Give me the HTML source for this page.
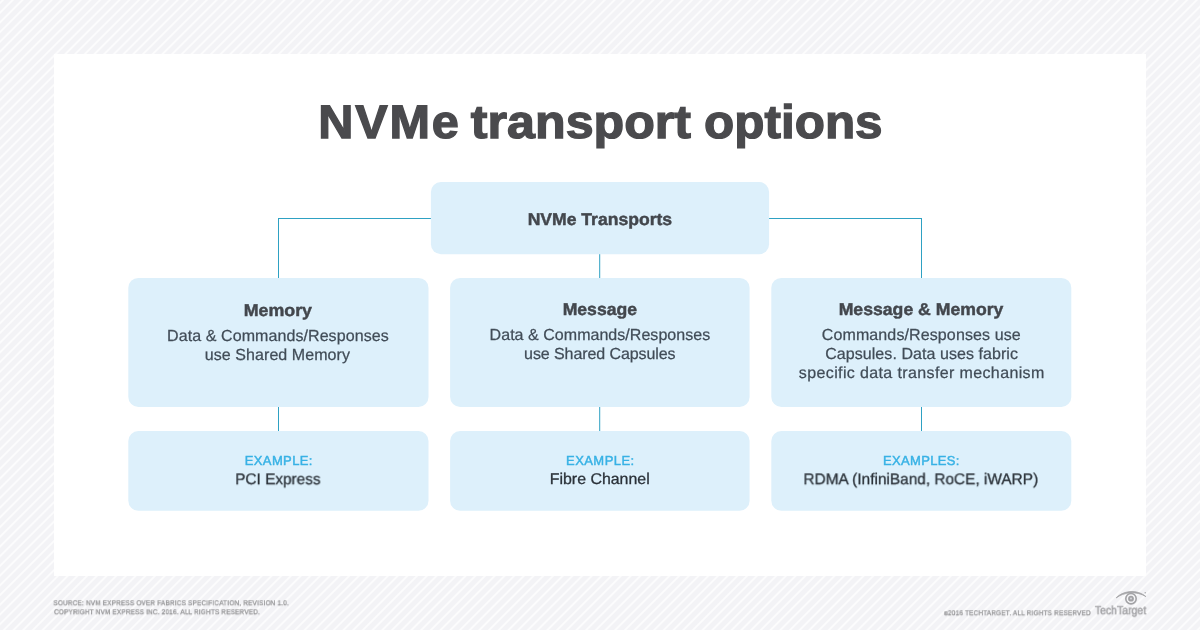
<!DOCTYPE html>
<html lang="en">
<head>
<meta charset="utf-8">
<title>NVMe transport options</title>
<style>
html,body{margin:0;padding:0;}
body{width:1200px;height:630px;overflow:hidden;position:relative;background:#f3f3f6;font-family:"Liberation Sans",sans-serif;}
.bg{position:absolute;left:0;top:0;width:1200px;height:630px;
  background:repeating-linear-gradient(135deg,rgba(255,255,255,0) 0px,rgba(255,255,255,0) .62px,rgba(255,255,255,.75) 1.72px,rgba(255,255,255,.75) 2.52px,rgba(255,255,255,0) 3.62px,rgba(255,255,255,0) 6.863px);}
.panel{position:absolute;left:54px;top:54px;width:1092px;height:522px;background:#fff;}
h1{margin:0;font-size:47px;line-height:0;font-weight:bold;}
.dia{position:absolute;left:0;top:0;}
.t{position:absolute;left:0;top:0;white-space:nowrap;margin:0;line-height:1;transform-origin:0 0;will-change:transform;text-rendering:geometricPrecision;}
.ttl{font-weight:bold;color:#4a4a4d;-webkit-text-stroke:1.3px #4a4a4d;}
.h{font-weight:bold;color:#43474d;-webkit-text-stroke:.45px #43474d;}
.b{color:#414c57;-webkit-text-stroke:.25px #414c57;}
.e{color:#38b2e5;-webkit-text-stroke:.45px #38b2e5;}
.x{color:#2b3239;-webkit-text-stroke:.3px #2b3239;}
.f{color:#959597;-webkit-text-stroke:.3px #959597;}
.logo{color:#a2a2a5;-webkit-text-stroke:.45px #a2a2a5;}
.c{font-size:5.5px;vertical-align:.3px;}
</style>
</head>
<body>
<div class="bg"></div>
<div class="panel"></div>
<svg class="dia" width="1200" height="630" viewBox="0 0 1200 630">
  <g fill="#2ea1c3">
    <rect x="278" y="218" width="154" height="1"/>
    <rect x="768" y="218" width="154" height="1"/>
    <rect x="278" y="218" width="1" height="61"/>
    <rect x="921" y="218" width="1" height="61"/>
    <rect x="599.2" y="253" width="1" height="26"/>
    <rect x="278" y="406" width="1" height="26"/>
    <rect x="599.2" y="406" width="1" height="26"/>
    <rect x="921" y="406" width="1" height="26"/>
  </g>
  <g fill="#ddf0fb">
    <rect x="430.9" y="182" width="338.2" height="72.2" rx="10"/>
    <rect x="128.3" y="277.9" width="300.2" height="129" rx="10"/>
    <rect x="450.1" y="277.9" width="299.5" height="129" rx="10"/>
    <rect x="771.3" y="277.9" width="300" height="129" rx="10"/>
    <rect x="128.3" y="431" width="300.2" height="79.8" rx="10"/>
    <rect x="450.1" y="431" width="299.5" height="79.8" rx="10"/>
    <rect x="771.3" y="431" width="300" height="79.8" rx="10"/>
  </g>
</svg>
<svg class="eye" style="position:absolute;left:1110px;top:586px;" width="40" height="22" viewBox="1110 586 40 22">
  <path d="M1116.2 597.9 C1122.5 591 1136.5 588.6 1145.9 596.6 C1136.5 590.6 1123.5 592.3 1116.2 597.9Z" fill="#a2a2a5" stroke="#a2a2a5" stroke-width=".8" stroke-linejoin="round"/>
  <circle cx="1131" cy="598.7" r="5.2" fill="none" stroke="#a2a2a5" stroke-width="1.6"/>
  <circle cx="1131" cy="598.7" r="2.9" fill="#a2a2a5"/>
  <circle cx="1131" cy="598.5" r="0.9" fill="#dcdcdf"/>
  <circle cx="1145.2" cy="592.7" r="0.7" fill="#a2a2a5"/>
</svg>

<h1><span class="t ttl" style="font-size:47px;letter-spacing:1.747px;transform:translate(318.27px,98.25px) scaleX(1.035);">NVMe</span>
<span class="t ttl" style="font-size:47px;transform:translate(470.87px,98.25px) scaleX(1.0674);">transport</span>
<span class="t ttl" style="font-size:47px;transform:translate(704.1px,98.25px) scaleX(1.052);">options</span></h1>
<div class="t h" style="font-size:17px;transform:translate(527.68px,211.25px) scaleX(1.0328);">NVMe Transports</div>
<div class="t h" style="font-size:17px;transform:translate(243.72px,302.25px) scaleX(1.0479);">Memory</div>
<div class="t b" style="font-size:16px;letter-spacing:0.081px;transform:translate(167.1px,329.25px);">Data &amp; Commands/Responses</div>
<div class="t b" style="font-size:16px;letter-spacing:0.07px;transform:translate(204.79px,348.25px);">use Shared Memory</div>
<div class="t h" style="font-size:17px;transform:translate(562.64px,301.25px) scaleX(1.0365);">Message</div>
<div class="t b" style="font-size:16px;letter-spacing:0.038px;transform:translate(489.61px,328.25px);">Data &amp; Commands/Responses</div>
<div class="t b" style="font-size:16px;letter-spacing:-0.082px;transform:translate(524.07px,347.25px);">use Shared Capsules</div>
<div class="t h" style="font-size:17px;transform:translate(838.68px,301.25px) scaleX(1.0374);">Message &amp; Memory</div>
<div class="t b" style="font-size:16px;letter-spacing:0.115px;transform:translate(821.77px,328.25px);">Commands/Responses use</div>
<div class="t b" style="font-size:16px;letter-spacing:0.064px;transform:translate(825.18px,347.25px);">Capsules. Data uses fabric</div>
<div class="t b" style="font-size:16px;letter-spacing:0.374px;transform:translate(798.84px,366.25px);">specific data transfer mechanism</div>
<div class="t e" style="font-size:13px;letter-spacing:0.39px;transform:translate(244.72px,454.25px);">EXAMPLE:</div>
<div class="t x" style="font-size:15.5px;transform:translate(235.23px,472.25px) scaleX(0.9896);">PCI Express</div>
<div class="t e" style="font-size:13px;letter-spacing:0.442px;transform:translate(566.03px,454.25px);">EXAMPLE:</div>
<div class="t x" style="font-size:15.5px;transform:translate(549.77px,472.25px) scaleX(1.0261);">Fibre Channel</div>
<div class="t e" style="font-size:13px;letter-spacing:0.343px;transform:translate(883.03px,454.25px);">EXAMPLES:</div>
<div class="t x" style="font-size:15.5px;transform:translate(803.44px,472.25px) scaleX(0.9932);">RDMA (InfiniBand, RoCE, iWARP)</div>
<div class="t f" style="font-size:7px;letter-spacing:0.289px;transform:translate(53.46px,600.25px) scaleX(0.9);">SOURCE: NVM EXPRESS OVER FABRICS SPECIFICATION, REVISION 1.0.</div>
<div class="t f" style="font-size:7px;letter-spacing:0.281px;transform:translate(54.15px,609.25px) scaleX(0.9);">COPYRIGHT NVM EXPRESS INC. 2016. ALL RIGHTS RESERVED.</div>
<div class="t f" style="font-size:7px;letter-spacing:0.299px;transform:translate(944.11px,610.25px) scaleX(0.9);"><span class="c">©</span>2016 TECHTARGET. ALL RIGHTS RESERVED</div>
<div class="t logo" style="font-size:11.8px;transform:translate(1094.8px,605.25px) scaleX(0.8898);">TechTarget</div>
</body>
</html>
